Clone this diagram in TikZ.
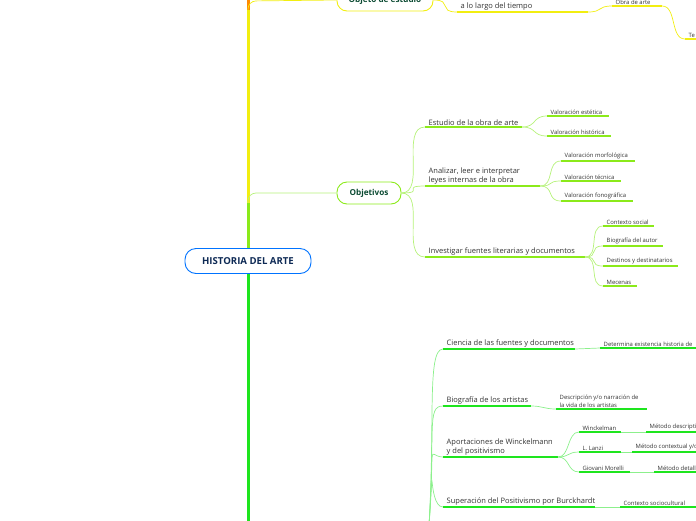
\documentclass[tikz,border=0pt]{standalone}
\usepackage{fontspec}
\setmainfont{Open Sans}
\usepackage{tikz}

\definecolor{trunkyel}{HTML}{F2EE10}
\definecolor{trunkorg}{HTML}{FF8A00}
\definecolor{lime}{HTML}{8BEA1A}
\definecolor{limelt}{HTML}{B6F27A}
\definecolor{grn}{HTML}{1EE51E}
\definecolor{grnlt}{HTML}{8CF08C}
\definecolor{navy}{HTML}{0E2A55}
\definecolor{dkgrn}{HTML}{0B4A32}
\definecolor{txt}{HTML}{333333}

\tikzset{
  topic/.style={anchor=south west, inner sep=1.5pt, align=left, text=txt, font=\fontsize{7.5}{9.3}\selectfont},
  subtopic/.style={topic, font=\fontsize{5.9}{7.4}\selectfont},
  mainbox/.style={draw, rounded corners=10pt, line width=0.9pt, minimum height=22pt, text=dkgrn, font=\bfseries\fontsize{8.2}{10}\selectfont},
  link/.style={line width=0.7pt},
  uline/.style={line width=1.6pt}
}

% underlined topic: name, x, y, width, colour, style, text
\newcommand{\topic}[7]{%
  \coordinate (#1-l) at (#2,#3);
  \coordinate (#1-r) at (#2+#4,#3);
  \draw[uline,#5] (#1-l) -- (#1-r);
  \node[#6] (#1) at (#2+2,#3) {#7};
}

\begin{document}
\begin{tikzpicture}[x=1pt,y=-1pt]
  \useasboundingbox (0,0) rectangle (696,520);
  \clip (0,0) rectangle (696,520);

  % trunk
  \coordinate (top) at (248,-5);
  \coordinate (tk1) at (248,10);
  \coordinate (tk2) at (248,203);
  \coordinate (bot) at (248,525);
  \draw[line width=3pt,trunkorg] (top) -- (tk1);
  \draw[line width=3pt,trunkyel] (tk1) -- (tk2);
  \draw[line width=3pt,lime] (tk2) -- (248,250);
  \draw[line width=3pt,grn] (248,270) -- (bot);

  \node[draw=blue!55!cyan, rounded corners=11pt, line width=0.9pt, fill=white,
        minimum width=126pt, minimum height=25pt, text=navy,
        font=\bfseries\fontsize{9.6}{11}\selectfont] (root) at (248,261) {HISTORIA DEL ARTE};

  % objeto de estudio
  \node[mainbox, draw=trunkyel, minimum width=96pt] (obj) at (385,0) {Objeto de estudio};
  \draw[link,trunkyel,rounded corners=8pt] (tk1) -- (248,1) -- (obj.west);
  \topic{tiempo}{457}{12}{131}{trunkyel}{topic}{a lo largo del tiempo}
  \draw[link,trunkyel] (obj.east) .. controls +(20,0) and +(-20,0) .. (tiempo-l);
  \topic{obra}{612}{6}{50}{trunkyel}{subtopic}{Obra de arte}
  \topic{te}{685}{39}{30}{trunkyel}{subtopic}{Te}
  \draw[link,trunkyel] (tiempo-r) .. controls +(15,0) and +(-15,0) .. (obra-l);
  \draw[link,trunkyel] (obra-r) .. controls +(15,0) and +(-15,0) .. (te-l);

  % objetivos
  \node[mainbox, draw=lime, minimum width=64pt] (objv) at (369,193) {Objetivos};
  \draw[link,limelt,rounded corners=8pt] (tk2) -- (248,193) -- (objv.west);
  \topic{estudio}{425}{127}{97}{lime}{topic}{Estudio de la obra de arte}
  \topic{analizar}{425}{186}{115}{lime}{topic}{Analizar, leer e interpretar\\leyes internas de la obra}
  \topic{fuentes}{425}{257}{160}{lime}{topic}{Investigar fuentes literarias y documentos}
  \foreach \k in {estudio,analizar,fuentes}
    \draw[link,limelt] (objv.east) .. controls +(25,0) and +(-25,0) .. (\k-l);

  \topic{estet}{547}{116}{62}{lime}{subtopic}{Valoración estética}
  \topic{histor}{547}{136}{64}{lime}{subtopic}{Valoración histórica}
  \foreach \k in {estet,histor}
    \draw[link,limelt] (estudio-r) .. controls +(15,0) and +(-15,0) .. (\k-l);
  \topic{morfo}{561}{161}{74}{lime}{subtopic}{Valoración morfológica}
  \topic{tecn}{561}{181}{60}{lime}{subtopic}{Valoración técnica}
  \topic{fono}{561}{201}{72}{lime}{subtopic}{Valoración fonográfica}
  \foreach \k in {morfo,tecn,fono}
    \draw[link,limelt] (analizar-r) .. controls +(15,0) and +(-15,0) .. (\k-l);
  \topic{social}{603}{226}{51}{lime}{subtopic}{Contexto social}
  \topic{biogr}{603}{246}{60}{lime}{subtopic}{Biografía del autor}
  \topic{destin}{603}{266}{75}{lime}{subtopic}{Destinos y destinatarios}
  \topic{mecen}{603}{286}{34}{lime}{subtopic}{Mecenas}
  \foreach \k in {social,biogr,destin,mecen}
    \draw[link,limelt] (fuentes-r) .. controls +(15,0) and +(-15,0) .. (\k-l);

  % third branch (its main node lies below the page)
  \coordinate (hub) at (428,540);
  \topic{ciencia}{443}{349}{132}{grn}{topic}{Ciencia de las fuentes y documentos}
  \topic{biolos}{443}{406}{88}{grn}{topic}{Biografía de los artistas}
  \topic{aport}{443}{457}{115}{grn}{topic}{Aportaciones de Winckelmann\\y del positivismo}
  \topic{super}{443}{507}{152}{grn}{topic}{Superación del Positivismo por Burckhardt}
  \foreach \k in {ciencia,biolos,aport,super}
    \draw[link,grnlt] (hub) .. controls (436,430) and ([xshift=-17pt]\k-l) .. (\k-l);

  \topic{determ}{600}{348}{100}{grn}{subtopic}{Determina existencia historia de}
  \draw[link,grnlt] (ciencia-r) .. controls +(12,0) and +(-12,0) .. (determ-l);
  \topic{descr}{556}{409}{91}{grn}{subtopic}{Descripción y/o narración de\\la vida de los artistas}
  \draw[link,grnlt] (biolos-r) .. controls +(12,0) and +(-12,0) .. (descr-l);
  \topic{winck}{579}{432}{42}{grn}{subtopic}{Winckelman}
  \topic{lanzi}{579}{452}{42}{grn}{subtopic}{L. Lanzi}
  \topic{morel}{579}{472}{51}{grn}{subtopic}{Giovani Morelli}
  \foreach \k in {winck,lanzi,morel}
    \draw[link,grnlt] (aport-r) .. controls +(12,0) and +(-12,0) .. (\k-l);
  \topic{mdesc}{646}{432}{60}{grn}{subtopic}{Método descriptivo}
  \topic{mcont}{632}{452}{70}{grn}{subtopic}{Método contextual y/o}
  \topic{mdet}{654}{472}{50}{grn}{subtopic}{Método detallista}
  \draw[link,grnlt] (winck-r) .. controls +(12,0) and +(-12,0) .. (mdesc-l);
  \draw[link,grnlt] (lanzi-r) .. controls +(6,0) and +(-6,0) .. (mcont-l);
  \draw[link,grnlt] (morel-r) .. controls +(12,0) and +(-12,0) .. (mdet-l);
  \topic{socio}{620}{507}{80}{grn}{subtopic}{Contexto sociocultural}
  \draw[link,grnlt] (super-r) .. controls +(12,0) and +(-12,0) .. (socio-l);
\end{tikzpicture}
\end{document}
